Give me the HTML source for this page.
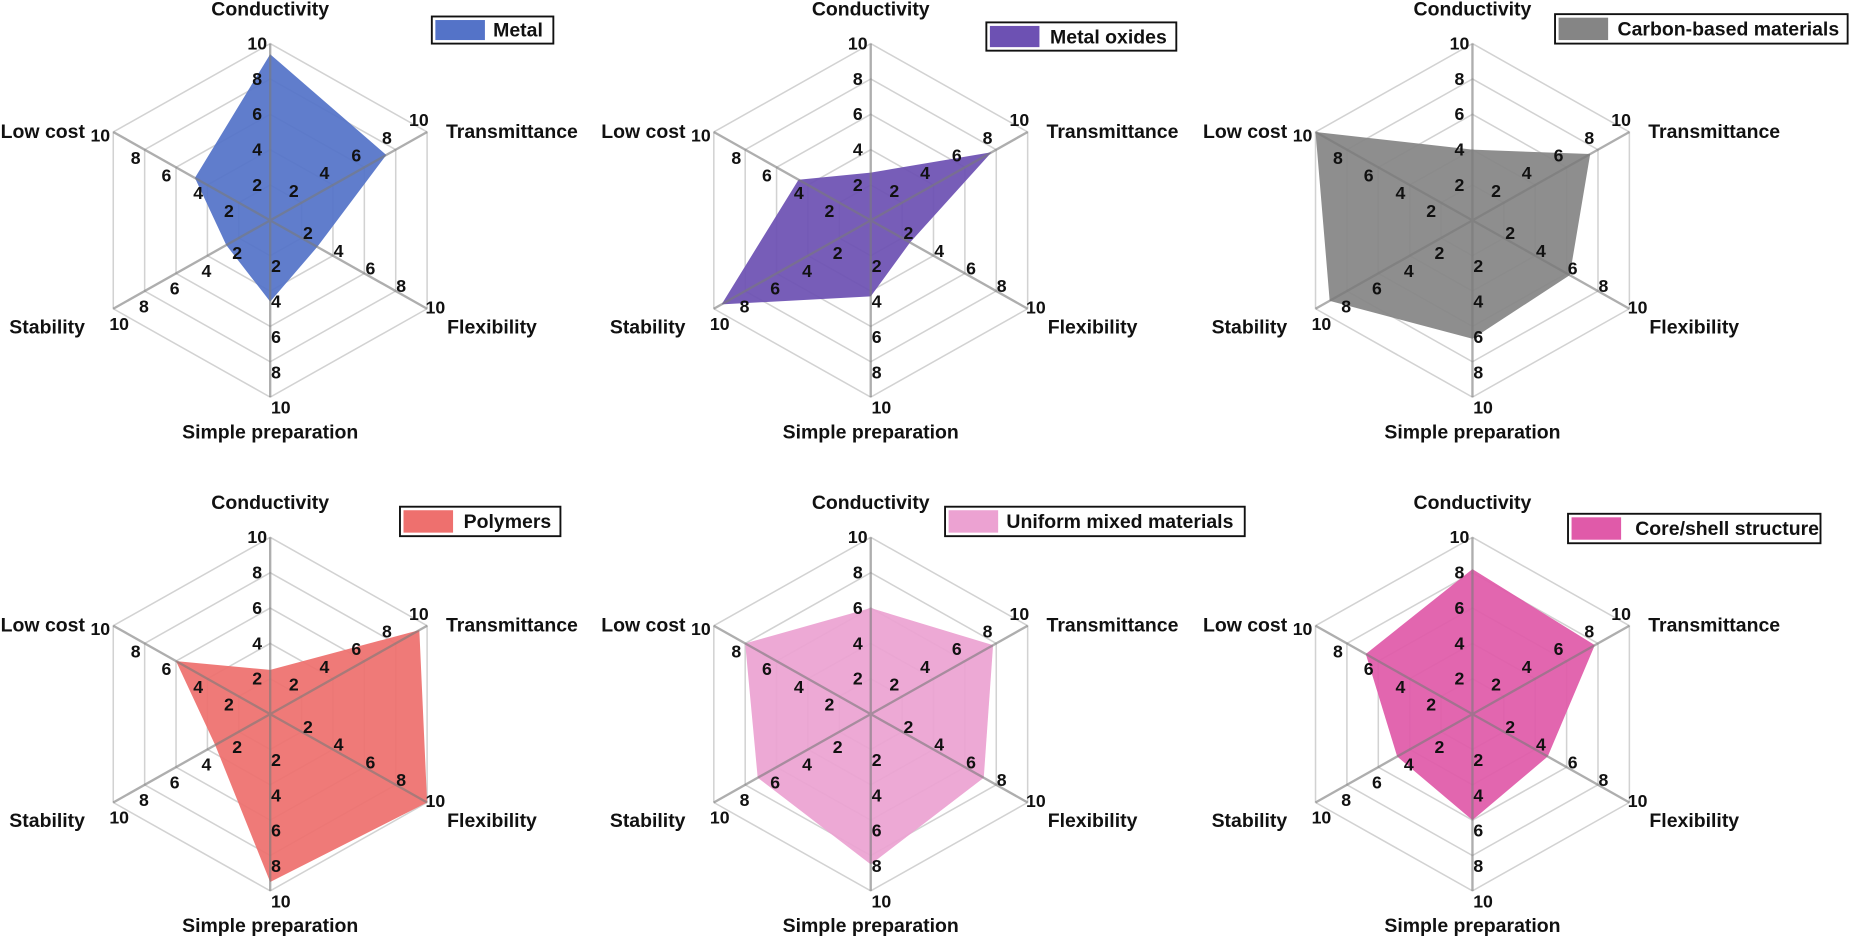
<!DOCTYPE html>
<html><head><meta charset="utf-8"><style>
html,body{margin:0;padding:0;background:#fff}
svg{display:block}
text{font-family:"Liberation Sans",Arial,sans-serif;font-weight:bold;fill:#111}
.t{font-size:15px;text-anchor:middle}
.l{font-size:16.5px}
.g{fill:none;stroke:#d2d2d2;stroke-width:1.3}
.a{stroke:#7a7a7a;stroke-width:2}
.lg{fill:#fff;stroke:#111;stroke-width:1.6}
</style></head><body>
<svg width="1850" height="938" viewBox="0 0 1568 796" preserveAspectRatio="none" xmlns="http://www.w3.org/2000/svg">
<defs>
<g id="grid">
<polygon class="g" points="0,-150 133,-75 133,75 0,150 -133,75 -133,-75"/>
<polygon class="g" points="0,-120 106.4,-60 106.4,60 0,120 -106.4,60 -106.4,-60"/>
<polygon class="g" points="0,-90 79.8,-45 79.8,45 0,90 -79.8,45 -79.8,-45"/>
<polygon class="g" points="0,-60 53.2,-30 53.2,30 0,60 -53.2,30 -53.2,-30"/>
<polygon class="g" points="0,-30 26.6,-15 26.6,15 0,30 -26.6,15 -26.6,-15"/>
</g>
<g id="axes">
<line class="a" x1="0" y1="0" x2="0" y2="-150"/>
<line class="a" x1="0" y1="0" x2="133" y2="-75"/>
<line class="a" x1="0" y1="0" x2="133" y2="75"/>
<line class="a" x1="0" y1="0" x2="0" y2="150"/>
<line class="a" x1="0" y1="0" x2="-133" y2="75"/>
<line class="a" x1="0" y1="0" x2="-133" y2="-75"/>
</g>
<g id="ticks">
<text class="t" x="-11" y="-25">2</text><text class="t" x="-11" y="-55">4</text><text class="t" x="-11" y="-85">6</text><text class="t" x="-11" y="-115">8</text><text class="t" x="-11" y="-145">10</text>
<text class="t" x="20" y="-20">2</text><text class="t" x="46" y="-35">4</text><text class="t" x="73" y="-50">6</text><text class="t" x="99" y="-65">8</text><text class="t" x="126" y="-80">10</text>
<text class="t" x="32" y="16">2</text><text class="t" x="58" y="31">4</text><text class="t" x="85" y="46">6</text><text class="t" x="111" y="61">8</text><text class="t" x="140" y="79">10</text>
<text class="t" x="5" y="44">2</text><text class="t" x="5" y="74">4</text><text class="t" x="5" y="104">6</text><text class="t" x="5" y="134">8</text><text class="t" x="9" y="164">10</text>
<text class="t" x="-28" y="33">2</text><text class="t" x="-54" y="48">4</text><text class="t" x="-81" y="63">6</text><text class="t" x="-107" y="78">8</text><text class="t" x="-128" y="93">10</text>
<text class="t" x="-35" y="-3">2</text><text class="t" x="-61" y="-18">4</text><text class="t" x="-88" y="-33">6</text><text class="t" x="-114" y="-48">8</text><text class="t" x="-144" y="-67">10</text>
</g>
</defs>

<g transform="translate(229,187)">
<use href="#grid"/>
<polygon points="0,-141 98.4,-55.5 39.9,22.5 0,69 -37.2,21 -63.8,-36" fill="#5473c8" fill-opacity="0.93"/>
<use href="#axes" opacity="0.6"/>
<use href="#ticks"/>
<text class="l" x="0" y="-174" text-anchor="middle">Conductivity</text>
<text class="l" x="149" y="-70">Transmittance</text>
<text class="l" x="150" y="96">Flexibility</text>
<text class="l" x="0" y="185" text-anchor="middle">Simple preparation</text>
<text class="l" x="-157" y="96" text-anchor="end">Stability</text>
<text class="l" x="-157" y="-70" text-anchor="end">Low cost</text>
</g>

<g transform="translate(738,187)">
<use href="#grid"/>
<polygon points="0,-40.5 102.4,-57.8 33.3,18.8 0,64.5 -126.4,71.3 -61.2,-34.5" fill="#6d51b3" fill-opacity="0.93"/>
<use href="#axes" opacity="0.6"/>
<use href="#ticks"/>
<text class="l" x="0" y="-174" text-anchor="middle">Conductivity</text>
<text class="l" x="149" y="-70">Transmittance</text>
<text class="l" x="150" y="96">Flexibility</text>
<text class="l" x="0" y="185" text-anchor="middle">Simple preparation</text>
<text class="l" x="-157" y="96" text-anchor="end">Stability</text>
<text class="l" x="-157" y="-70" text-anchor="end">Low cost</text>
</g>

<g transform="translate(1248,187)">
<use href="#grid"/>
<polygon points="0,-60 99.8,-56.3 82.5,46.5 0,100.5 -121,68.3 -133,-75" fill="#858585" fill-opacity="0.93"/>
<use href="#axes" opacity="0.6"/>
<use href="#ticks"/>
<text class="l" x="0" y="-174" text-anchor="middle">Conductivity</text>
<text class="l" x="149" y="-70">Transmittance</text>
<text class="l" x="150" y="96">Flexibility</text>
<text class="l" x="0" y="185" text-anchor="middle">Simple preparation</text>
<text class="l" x="-157" y="96" text-anchor="end">Stability</text>
<text class="l" x="-157" y="-70" text-anchor="end">Low cost</text>
</g>

<g transform="translate(229,606)">
<use href="#grid"/>
<polygon points="0,-37.5 126.4,-71.3 133,75 0,142.5 -46.6,26.3 -79.8,-45" fill="#ee706e" fill-opacity="0.93"/>
<use href="#axes" opacity="0.6"/>
<use href="#ticks"/>
<text class="l" x="0" y="-174" text-anchor="middle">Conductivity</text>
<text class="l" x="149" y="-70">Transmittance</text>
<text class="l" x="150" y="96">Flexibility</text>
<text class="l" x="0" y="185" text-anchor="middle">Simple preparation</text>
<text class="l" x="-157" y="96" text-anchor="end">Stability</text>
<text class="l" x="-157" y="-70" text-anchor="end">Low cost</text>
</g>

<g transform="translate(738,606)">
<use href="#grid"/>
<polygon points="0,-90 103.7,-58.5 95.8,54 0,127.5 -95.8,54 -106.4,-60" fill="#eca2d2" fill-opacity="0.93"/>
<use href="#axes" opacity="0.6"/>
<use href="#ticks"/>
<text class="l" x="0" y="-174" text-anchor="middle">Conductivity</text>
<text class="l" x="149" y="-70">Transmittance</text>
<text class="l" x="150" y="96">Flexibility</text>
<text class="l" x="0" y="185" text-anchor="middle">Simple preparation</text>
<text class="l" x="-157" y="96" text-anchor="end">Stability</text>
<text class="l" x="-157" y="-70" text-anchor="end">Low cost</text>
</g>

<g transform="translate(1248,606)">
<use href="#grid"/>
<polygon points="0,-123 103.7,-58.5 63.8,36 0,90 -63.8,36 -90.4,-51" fill="#e05aa9" fill-opacity="0.93"/>
<use href="#axes" opacity="0.6"/>
<use href="#ticks"/>
<text class="l" x="0" y="-174" text-anchor="middle">Conductivity</text>
<text class="l" x="149" y="-70">Transmittance</text>
<text class="l" x="150" y="96">Flexibility</text>
<text class="l" x="0" y="185" text-anchor="middle">Simple preparation</text>
<text class="l" x="-157" y="96" text-anchor="end">Stability</text>
<text class="l" x="-157" y="-70" text-anchor="end">Low cost</text>
</g>

<rect class="lg" x="366" y="14" width="103" height="23"/>
<rect x="369" y="17" width="42" height="17" fill="#5473c8"/>
<text class="l" x="418" y="31">Metal</text>

<rect class="lg" x="836" y="19" width="161" height="24"/>
<rect x="839" y="22" width="42" height="18" fill="#6d51b3"/>
<text class="l" x="890" y="37">Metal oxides</text>

<rect class="lg" x="1318" y="12" width="248" height="25"/>
<rect x="1321" y="15" width="42" height="19" fill="#858585"/>
<text class="l" x="1371" y="30">Carbon-based materials</text>

<rect class="lg" x="339" y="430" width="136" height="25"/>
<rect x="342" y="433" width="42" height="19" fill="#ee706e"/>
<text class="l" x="393" y="448">Polymers</text>

<rect class="lg" x="801" y="430" width="254" height="25"/>
<rect x="804" y="433" width="42" height="19" fill="#eca2d2"/>
<text class="l" x="853" y="448">Uniform mixed materials</text>

<rect class="lg" x="1329" y="436" width="214" height="25"/>
<rect x="1332" y="439" width="42" height="19" fill="#e05aa9"/>
<text class="l" x="1386" y="454">Core/shell structure</text>
</svg>
</body></html>
